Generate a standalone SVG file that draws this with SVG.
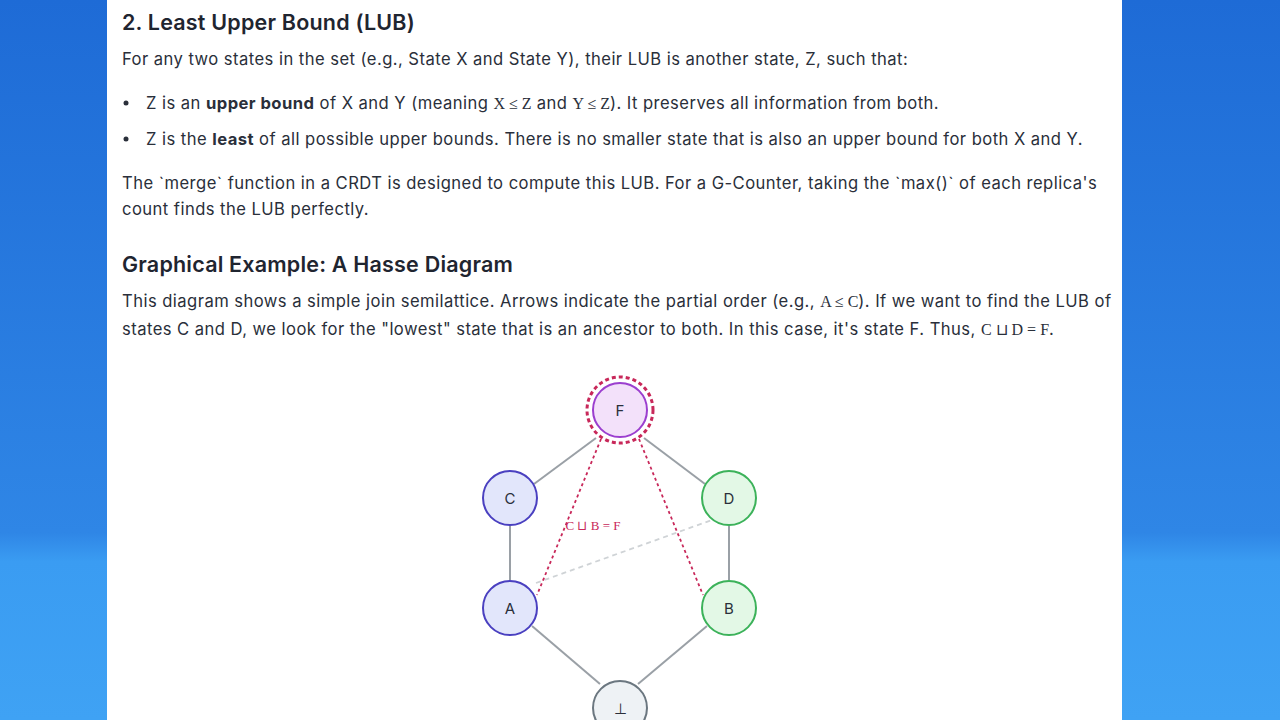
<svg xmlns="http://www.w3.org/2000/svg" width="1280" height="720" viewBox="0 0 1280 720">
<defs>
<linearGradient id="bg" x1="0" y1="0" x2="0" y2="1">
<stop offset="0" stop-color="#1e6bd6"/><stop offset="0.74" stop-color="#2f86e6"/><stop offset="0.78" stop-color="#3a9cf2"/><stop offset="1" stop-color="#3fa2f4"/>
</linearGradient>
<style>
.t{font-family:Inter,"Liberation Sans",sans-serif;font-size:16.6px;letter-spacing:0.45px;fill:#2a2f3a}
.h{font-family:Inter,"Liberation Sans",sans-serif;font-size:21.5px;font-weight:600;letter-spacing:0.2px;fill:#1f2530}
.m{font-family:"Liberation Serif",serif;font-size:16px;letter-spacing:0}
.b{font-weight:700}
.e{stroke:#9aa0a6;stroke-width:2;fill:none}
.n{stroke-width:2}
.nl{font-family:Inter,"Liberation Sans",sans-serif;font-size:15px;fill:#2a2f3a;text-anchor:middle;dominant-baseline:central}
.r{stroke:#c8285a;stroke-width:1.8;stroke-dasharray:3 3;fill:none}
</style>
</defs>
<rect width="1280" height="720" fill="url(#bg)"/>
<rect x="107" y="0" width="1015" height="720" fill="#fff"/>
<text class="h" x="122" y="30">2. Least Upper Bound (LUB)</text>
<text class="t" x="122" y="65">For any two states in the set (e.g., State X and State Y), their LUB is another state, Z, such that:</text>
<circle cx="126" cy="103" r="2.5" fill="#2a2f3a"/>
<text class="t" x="146" y="109">Z is an <tspan class="b">upper bound</tspan> of X and Y (meaning <tspan class="m">X ≤ Z</tspan> and <tspan class="m">Y ≤ Z</tspan>). It preserves all information from both.</text>
<circle cx="126" cy="139" r="2.5" fill="#2a2f3a"/>
<text class="t" x="146" y="145">Z is the <tspan class="b">least</tspan> of all possible upper bounds. There is no smaller state that is also an upper bound for both X and Y.</text>
<text class="t" x="122" y="189">The `merge` function in a CRDT is designed to compute this LUB. For a G-Counter, taking the `max()` of each replica's</text>
<text class="t" x="122" y="215">count finds the LUB perfectly.</text>
<text class="h" x="122" y="272">Graphical Example: A Hasse Diagram</text>
<text class="t" x="122" y="307">This diagram shows a simple join semilattice. Arrows indicate the partial order (e.g., <tspan class="m">A ≤ C</tspan>). If we want to find the LUB of</text>
<text class="t" x="122" y="335">states C and D, we look for the "lowest" state that is an ancestor to both. In this case, it's state F. Thus, <tspan class="m">C ⊔ D = F</tspan>.</text>
<g id="connectors">
<line class="e" x1="534" y1="484" x2="596" y2="438"/>
<line class="e" x1="644" y1="438" x2="705" y2="484"/>
<line class="e" x1="510" y1="526" x2="510" y2="580"/>
<line class="e" x1="729" y1="526" x2="729" y2="580"/>
<line class="e" x1="532" y1="626" x2="600" y2="684"/>
<line class="e" x1="707" y1="626" x2="638" y2="684"/>
<line x1="536" y1="583" x2="712" y2="520" stroke="#cfd3d6" stroke-width="1.8" stroke-dasharray="5 4"/>
<line class="r" x1="601" y1="439" x2="537" y2="595"/>
<line class="r" x1="639" y1="439" x2="703" y2="595"/>
<text x="593" y="530" text-anchor="middle" font-family="Liberation Serif,serif" font-size="13" fill="#c8285a">C ⊔ B = F</text>
</g>
<g id="F"><circle cx="620" cy="410" r="33" fill="none" stroke="#c8285a" stroke-width="3" stroke-dasharray="4 3"/><circle class="n" cx="620" cy="410" r="27" fill="#f3e1fa" stroke="#9b3fcf"/><text class="nl" x="620" y="410">F</text></g>
<g id="C"><circle class="n" cx="510" cy="498" r="27" fill="#e2e6fb" stroke="#4a40c0"/><text class="nl" x="510" y="498">C</text></g>
<g id="D"><circle class="n" cx="729" cy="498" r="27" fill="#e3f8e6" stroke="#3cb25a"/><text class="nl" x="729" y="498">D</text></g>
<g id="A"><circle class="n" cx="510" cy="608" r="27" fill="#e2e6fb" stroke="#4a40c0"/><text class="nl" x="510" y="608">A</text></g>
<g id="B"><circle class="n" cx="729" cy="608" r="27" fill="#e3f8e6" stroke="#3cb25a"/><text class="nl" x="729" y="608">B</text></g>
<g id="bottom"><circle class="n" cx="620" cy="708" r="27" fill="#eef2f5" stroke="#6b7780"/><text class="nl" x="620" y="708">⊥</text></g>
</svg>
